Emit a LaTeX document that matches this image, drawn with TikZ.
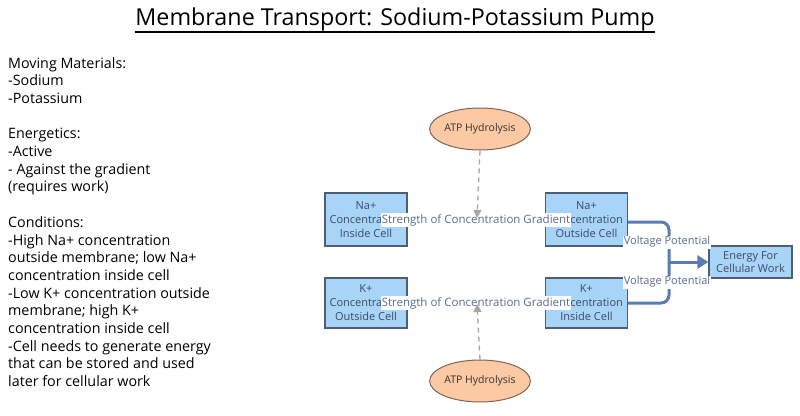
\documentclass[tikz,border=0pt]{standalone}
\usepackage{fontspec}
\setmainfont{Open Sans}
\usetikzlibrary{shapes.geometric,arrows.meta}
\definecolor{boxfill}{HTML}{A8D4F8}
\definecolor{boxdraw}{HTML}{4F5F73}
\definecolor{boxtext}{HTML}{3A4A66}
\definecolor{atpfill}{HTML}{FBC9A3}
\definecolor{atpdraw}{HTML}{7E6558}
\definecolor{flow}{HTML}{5B7BB5}
\definecolor{lbltext}{HTML}{5A6C8C}
\tikzset{
  conc/.style={draw=boxdraw, line width=1.2pt, fill=boxfill, minimum width=82pt, minimum height=53pt, inner sep=1pt, align=center, text=boxtext, font=\fontsize{11}{14}\selectfont},
  atp/.style={ellipse, draw=atpdraw, line width=1pt, fill=atpfill, minimum width=100pt, minimum height=42pt, inner sep=0pt, text=black!80, font=\fontsize{10.5}{12}\selectfont},
  lbl/.style={fill=white, inner sep=1pt, text=lbltext, font=\fontsize{11.5}{13}\selectfont},
  vlbl/.style={fill=white, inner sep=1pt, text=lbltext, font=\fontsize{11}{12}\selectfont},
  dasharrow/.style={draw=gray!70, line width=1.3pt, dash pattern=on 5pt off 4pt, -{Triangle[length=8pt,width=8pt]}},
  flowline/.style={draw=flow, line width=3pt, rounded corners=8pt},
  body/.style={anchor=north west, align=left, inner sep=0pt, font=\fontsize{14.3}{17.7}\selectfont}
}
\begin{document}
\begin{tikzpicture}[x=1pt,y=-1pt]
\useasboundingbox[fill=white] (0,0) rectangle (800,415);
% title
\node[font=\fontsize{23.3}{27}\selectfont, inner sep=0pt] (title) at (395,19) {Membrane Transport: Sodium-Potassium Pump};
\draw[line width=1.3pt] (title.south west |- 0,32) -- (title.south east |- 0,32);
% left text
\node[body] (notes) at (8,57) {Moving Materials:\\-Sodium\\-Potassium\\[17.7pt]Energetics:\\-Active\\- Against the gradient\\(requires work)\\[17.7pt]Conditions:\\-High Na+ concentration\\outside membrane; low Na+\\concentration inside cell\\-Low K+ concentration outside\\membrane; high K+\\concentration inside cell\\-Cell needs to generate energy\\that can be stored and used\\later for cellular work};
% nodes
\node[atp] (atp1) at (480,129) {ATP Hydrolysis};
\node[atp] (atp2) at (480,381) {ATP Hydrolysis};
\node[conc] (nain) at (366,219.5) {Na+\\Concentration\\Inside Cell};
\node[conc] (naout) at (586.5,219.5) {Na+\\Concentration\\Outside Cell};
\node[conc, minimum height=50pt] (kout) at (366,303) {K+\\Concentration\\Outside Cell};
\node[conc, minimum height=50pt] (kin) at (586.5,303) {K+\\Concentration\\Inside Cell};
\node[conc, minimum width=83pt, minimum height=32pt, font=\fontsize{11}{13}\selectfont] (energy) at (750.5,262) {Energy For\\Cellular Work};
% flows
\coordinate (join) at (669,262);
\draw[flowline] (naout.east |- 0,222) -| (join);
\draw[flowline] (kin.east |- 0,303) -| (join);
\draw[draw=flow, line width=3pt, -{Triangle[length=11pt,width=13pt]}] ([xshift=-1.5pt]join) -- (energy.west);
\node[vlbl] (v1) at (667,242) {Voltage Potential};
\node[vlbl] (v2) at (667,282) {Voltage Potential};
% gradient labels
\node[lbl] (s1) at (476,220) {Strength of Concentration Gradient};
\node[lbl] (s2) at (476,303) {Strength of Concentration Gradient};
% dashed arrows
\coordinate (g1) at (477,218);
\coordinate (g2) at (477,304);
\draw[dasharrow] (atp1.south) -- (g1);
\draw[dasharrow] (atp2.north) -- (g2);
\end{tikzpicture}
\end{document}
